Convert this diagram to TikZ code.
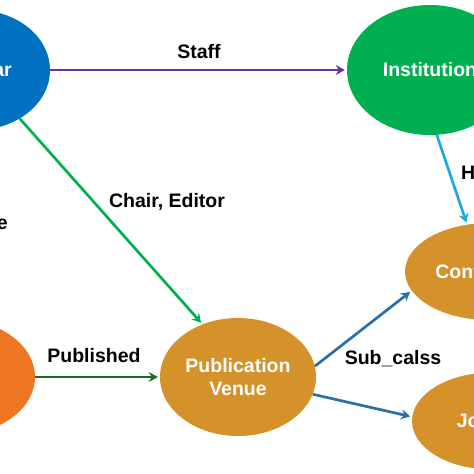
\documentclass[tikz,border=0pt]{standalone}
\usepackage{fontspec}
\setmainfont{Liberation Sans}
\usetikzlibrary{shapes.geometric,arrows.meta}
\definecolor{cblue}{HTML}{0070C0}
\definecolor{cgreen}{HTML}{00B050}
\definecolor{corange}{HTML}{EE7623}
\definecolor{cgold}{HTML}{D6922A}
\definecolor{cpurple}{HTML}{7030A0}
\definecolor{cdgreen}{HTML}{1B6B1B}
\definecolor{clblue}{HTML}{1CA8E3}
\definecolor{csblue}{HTML}{2A6EAA}
\tikzset{
  ent/.style={ellipse, inner sep=0pt, text=white, font=\fontsize{19.5}{23}\selectfont\bfseries, align=center},
  lbl/.style={inner sep=0pt, text=black, font=\fontsize{19.5}{23}\selectfont\bfseries},
  conn/.style={line width=2.7pt, -{Stealth[length=9pt,width=10pt,inset=3pt]}, shorten >=2pt}
}
\begin{document}
\begin{tikzpicture}[x=1pt,y=-1pt]
\useasboundingbox (0,0) rectangle (474,474);
\clip (0,0) rectangle (474,474);
\node[ent, fill=cblue, minimum width=148pt, minimum height=120pt] (scholar) at (-24,70) {Scholar};
\node[ent, fill=cgreen, minimum width=166pt, minimum height=130pt] (inst) at (430,70) {Institution};
\node[ent, fill=corange, minimum width=160pt, minimum height=116pt] (paper) at (-45,377) {};
\node[ent, fill=cgold, minimum width=156pt, minimum height=118pt] (venue) at (238,377) {Publication\\Venue};
\node[ent, fill=cgold, minimum width=168pt, minimum height=97pt] (conf) at (489,271.5) {Conference};
\node[ent, fill=cgold, minimum width=160pt, minimum height=97pt] (journal) at (492,421) {Journal};

\draw[conn, cpurple] (scholar.east) -- (inst.west);
\draw[conn, cgreen] (scholar.-48) -- (venue.124);
\draw[conn, cdgreen] (paper.east) -- (venue.west);
\draw[conn, clblue] (inst.-84) -- (conf.115);
\draw[conn, csblue] (venue.8) -- (conf.194.7);
\draw[conn, csblue] (venue.-13) -- (journal.177);

\node[lbl] (lstaff) at (199,52) {Staff};
\node[lbl] (lchair) at (167,202) {Chair, Editor};
\node[lbl, anchor=east] (le) at (8,224) {e};
\node[lbl] (lpub) at (94,356) {Published};
\node[lbl] (lsub) at (393,359) {Sub\_calss};
\node[lbl, anchor=west] (lh) at (461,173) {H};
\end{tikzpicture}
\end{document}
